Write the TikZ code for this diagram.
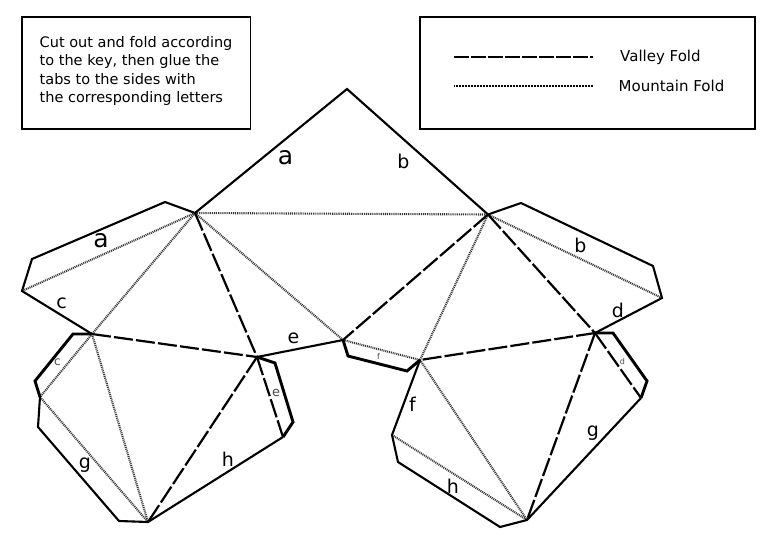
\documentclass[tikz,border=0pt]{standalone}
\usepackage{fontspec}
\setmainfont{DejaVu Sans}
\newcommand{\fsz}[1]{\fontsize{#1}{#1}\selectfont}
\tikzset{
 cutline/.style={line width=2.1pt,line join=miter,black},
 tabline/.style={line width=2.9pt,line join=miter,black},
 valley/.style={line width=2.2pt,black,dash pattern=on 19pt off 3.2pt},
 mountain/.style={line width=2.1pt,black!78,dash pattern=on 1pt off 0.9pt},
 frame/.style={line width=1.9pt,draw=black},
 lab/.style={inner sep=0pt,font=\fsz{19}},
 biglab/.style={inner sep=0pt,font=\fsz{25}},
 smalllab/.style={inner sep=0pt,text=black!70},
 keytxt/.style={inner sep=0pt,anchor=west,font=\fsz{15}},
 notetxt/.style={inner sep=0pt,anchor=north west,align=left,font=\fontsize{14.5}{18.2}\selectfont},
}
\begin{document}
\begin{tikzpicture}[x=1pt,y=-1pt]
\useasboundingbox (0,0) rectangle (768,543);
% vertices
\coordinate (T) at (347,89);
\coordinate (L) at (195,213);
\coordinate (R) at (488,214.5);
\coordinate (C) at (343,340);
\coordinate (A) at (92,334);
\coordinate (B) at (257,357);
\coordinate (E) at (148,522);
\coordinate (Q) at (420,360);
\coordinate (D) at (595,333);
\coordinate (F) at (527,520);
\coordinate (t1) at (165,202);
\coordinate (t2) at (32,259);
\coordinate (t3) at (22,291);
\coordinate (u1) at (73,334);
\coordinate (u2) at (35,381);
\coordinate (u3) at (40,397);
\coordinate (u4) at (38,427);
\coordinate (u5) at (119,521);
\coordinate (v1) at (283,437);
\coordinate (v2) at (293,422);
\coordinate (v3) at (275,363);
\coordinate (r1) at (521,203);
\coordinate (r2) at (653,266);
\coordinate (r3) at (662,298);
\coordinate (s1) at (613,333);
\coordinate (s2) at (647,381);
\coordinate (s3) at (641,398);
\coordinate (w1) at (500,527);
\coordinate (w2) at (398,462);
\coordinate (w3) at (392,435);
\coordinate (x1) at (407,371);
\coordinate (x2) at (348,356);
% mountain folds
\draw[mountain] (L)--(R);
\draw[mountain] (L)--(t3);
\draw[mountain] (L)--(A);
\draw[mountain] (L)--(C);
\draw[mountain] (A)--(u3);
\draw[mountain] (A)--(E);
\draw[mountain] (u3)--(E);
\draw[mountain] (R)--(r3);
\draw[mountain] (R)--(Q);
\draw[mountain] (C)--(Q);
\draw[mountain] (Q)--(F);
\draw[mountain] (w3)--(F);
% valley folds
\draw[valley] (L)--(B);
\draw[valley] (A)--(B);
\draw[valley] (B)--(E);
\draw[valley] (B)--(v1);
\draw[valley] (R)--(C);
\draw[valley] (R)--(D);
\draw[valley] (D)--(Q);
\draw[valley] (D)--(F);
\draw[valley] (D)--(s3);
% cut outline
\draw[cutline] (L)--(T)--(R);
\draw[cutline] (L)--(t1)--(t2)--(t3)--(A);
\draw[cutline] (B)--(C);
\draw[cutline] (R)--(r1)--(r2)--(r3)--(D);
\draw[cutline] (u3)--(u4)--(u5)--(E)--(v1);
\draw[cutline] (s3)--(F)--(w1)--(w2)--(w3)--(Q);
% thick tabs
\draw[tabline] (A)--(u1)--(u2)--(u3);
\draw[tabline] (B)--(v3)--(v2)--(v1);
\draw[tabline] (D)--(s1)--(s2)--(s3);
\draw[tabline] (C)--(x2)--(x1)--(Q);
% labels
\node[biglab] (la1) at (285.5,158) {a};
\node[lab] (lb1) at (403.5,161) {b};
\node[biglab] (la2) at (101,241) {a};
\node[lab] (lb2) at (580.5,245) {b};
\node[lab] (lc1) at (61.5,303) {c};
\node[lab] (ld1) at (618,310) {d};
\node[lab] (le1) at (293.5,338) {e};
\node[lab] (lf1) at (412.5,404) {f};
\node[lab] (lg1) at (85,465.5) {g};
\node[lab] (lg2) at (593,433.5) {g};
\node[lab] (lh1) at (228,459) {h};
\node[lab] (lh2) at (453,486) {h};
\node[smalllab,font=\fsz{12}] (lc2) at (57.5,362.5) {c};
\node[smalllab,font=\fsz{13}] (le2) at (276,392.5) {e};
\node[smalllab,font=\fsz{8}] (lf2) at (378.5,356) {f};
\node[smalllab,font=\fsz{8}] (ld2) at (622.5,361.5) {d};
% boxes
\draw[frame] (22,17) rectangle (250.5,129);
\node[notetxt] (note) at (39.5,36.5)
 {Cut out and fold according\\to the key, then glue the\\tabs to the sides with\\the corresponding letters};
\draw[frame] (420,17) rectangle (755,129);
\coordinate (k1) at (454,57.5);
\coordinate (k2) at (593,57.5);
\coordinate (k3) at (454,86);
\coordinate (k4) at (593,86);
\draw[line width=2pt,dash pattern=on 15pt off 2pt] (k1)--(k2);
\draw[line width=1.5pt,dash pattern=on 1pt off 0.5pt] (k3)--(k4);
\node[keytxt] (kv) at (620,57.5) {Valley Fold};
\node[keytxt] (km) at (618.5,86) {Mountain Fold};
\end{tikzpicture}
\end{document}
